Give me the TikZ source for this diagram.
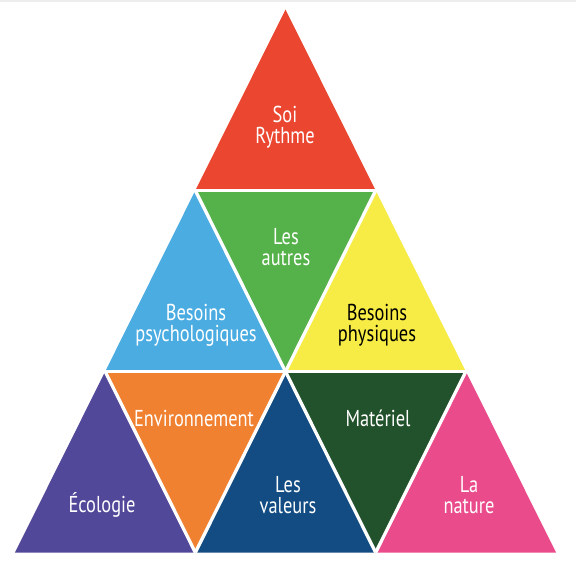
\documentclass[tikz,border=0pt]{standalone}
\usepackage{fontspec}
\setmainfont[FakeStretch=0.8]{PT Sans}
\usepackage{tikz}
\usetikzlibrary{calc}
\definecolor{soiRed}{HTML}{EA4630}
\definecolor{psyBlue}{HTML}{4BACE2}
\definecolor{autGreen}{HTML}{55B24A}
\definecolor{phyYellow}{HTML}{F6EC45}
\definecolor{ecoPurple}{HTML}{514899}
\definecolor{envOrange}{HTML}{F08131}
\definecolor{valBlue}{HTML}{124C82}
\definecolor{matGreen}{HTML}{22522B}
\definecolor{natPink}{HTML}{E94B8B}
\tikzstyle{gap} = [draw=white,line width=3.3pt]
\tikzstyle{lbl} = [align=center,inner sep=0pt,font=\fontsize{23}{21}\selectfont]

\begin{document}
\begin{tikzpicture}[x=1pt,y=-1pt]

 \useasboundingbox (0,0) rectangle (576,565);
 \fill[black!7] (0,0) rectangle (576,2);

 %grid points
  \def\dx{285.5};
  \def\dy{9.5};
  \def\w{90.17};
  \def\h{181};

   \foreach \k in {0,...,3}
     \foreach \j in {0,...,\k}
          \coordinate (p\k\j) at ({(2*\j-\k)*\w+\dx}, {\k*\h+\dy});

 %triangles
   \foreach \a/\b/\c/\col in {p00/p10/p11/soiRed, p10/p20/p21/psyBlue, p10/p11/p21/autGreen, p11/p21/p22/phyYellow,
                              p20/p30/p31/ecoPurple, p20/p21/p31/envOrange, p21/p31/p32/valBlue, p21/p22/p32/matGreen, p22/p32/p33/natPink}
          \fill[\col] (\a) -- (\b) -- (\c) -- cycle;

 %white gaps
  \foreach \source/ \dest in {p10/p11, p20/p22, p10/p32, p20/p31, p11/p31, p22/p32}
         \path[gap] (\source) -- (\dest);

 %labels
   \foreach \x/\y/\name/\col/\label in {285/127.5/soi/white/{Soi\\Rythme}, 286/247/autres/white/{Les\\autres},
                                       196/325/psycho/white/{Besoins\\psychologiques}, 377/325/physique/black/{Besoins\\physiques},
                                       194/418/env/white/Environnement, 378/418/materiel/white/Matériel,
                                       102/505/eco/white/Écologie, 288/495.5/valeurs/white/{Les\\valeurs}, 469/495.5/nature/white/{La\\nature}}
          \node[lbl,text=\col] (\name) at (\x,\y) {\label};

\end{tikzpicture}
\end{document}
